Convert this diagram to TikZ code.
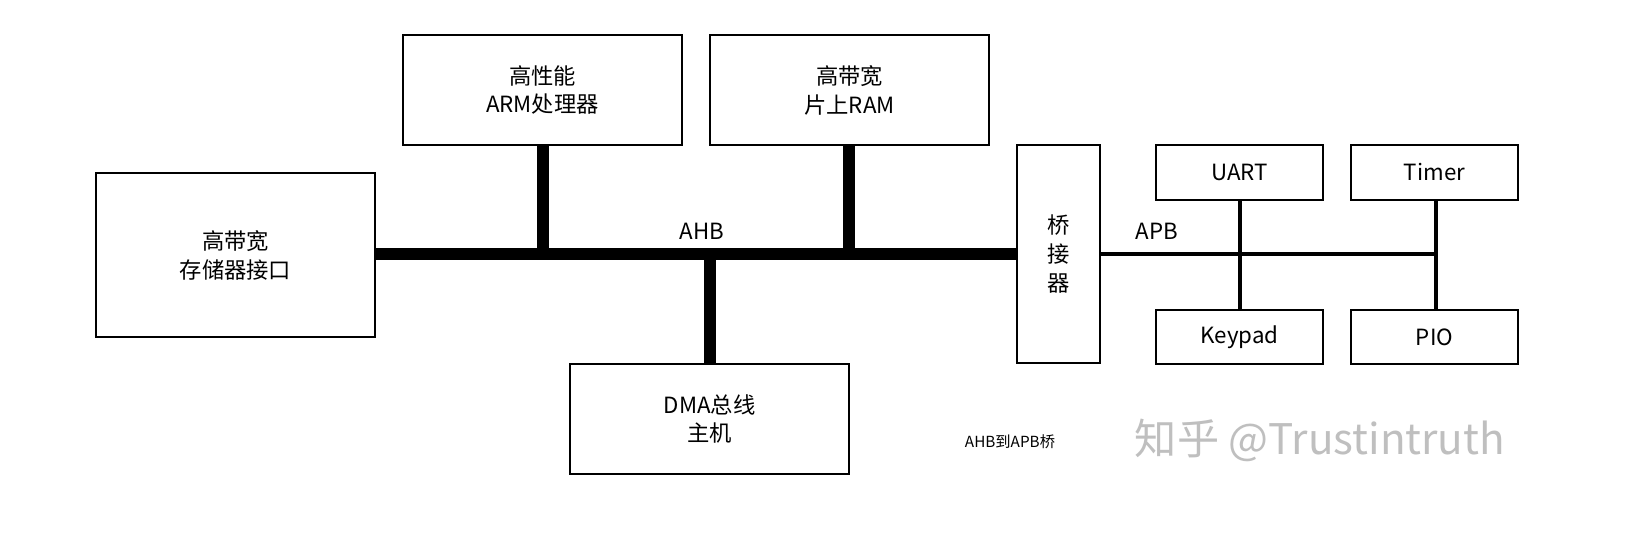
\documentclass[tikz,border=0pt]{standalone}
\usepackage{fontspec}
\setmainfont{Noto Sans CJK SC}
\begin{document}
\begin{tikzpicture}[x=0.02cm,y=-0.02cm,
  blk/.style={draw,line width=0.8pt,inner sep=0pt,align=center,font=\fontsize{12.7}{16.5}\selectfont},
  ahb/.style={line width=6.8pt},
  apb/.style={line width=2.3pt}]
\useasboundingbox (0,0) rectangle (1649,533);
\path[fill=white] (0,0) rectangle (1649,533);
\def\bx#1#2#3#4#5#6{\node[blk,minimum width=(#4-#2)*0.02cm,minimum height=(#5-#3)*0.02cm] (#1) at ({(#2+#4)/2},{(#3+#5)/2}) {#6};}
\bx{mem}{96}{173}{375}{337}{高带宽\\存储器接口}
\bx{arm}{403}{35}{682}{145}{高性能\\ARM处理器}
\bx{ram}{710}{35}{989}{145}{高带宽\\片上RAM}
\bx{dma}{570}{364}{849}{474}{DMA总线\\主机}
\bx{br}{1017}{145}{1100}{363}{桥\\接\\器}
\bx{uart}{1156}{145}{1323}{200}{UART}
\bx{timer}{1351}{145}{1518}{200}{Timer}
\bx{key}{1156}{310}{1323}{364}{Keypad}
\bx{pio}{1351}{310}{1518}{364}{PIO}
\coordinate (a1) at (543,254);
\coordinate (a2) at (849,254);
\coordinate (a3) at (710,254);
\coordinate (p1) at (1240,254);
\coordinate (p2) at (1436,254);
\draw[ahb] (mem.east |- a1) -- (br.west |- a1);
\draw[ahb] (arm.south -| a1) -- (a1);
\draw[ahb] (ram.south -| a2) -- (a2);
\draw[ahb] (dma.north -| a3) -- (a3);
\draw[apb] (br.east |- p1) -- (p2);
\draw[apb] (uart.south -| p1) -- (key.north -| p1);
\draw[apb] (timer.south -| p2) -- (pio.north -| p2);
\node[font=\fontsize{12.7}{16.5}\selectfont] (lahb) at (702,231) {AHB};
\node[font=\fontsize{12.7}{16.5}\selectfont] (lapb) at (1157,231) {APB};
\node[font=\fontsize{8.7}{11}\selectfont] (cap) at (1010,442) {AHB到APB桥};
\node[font=\fontsize{24}{28}\selectfont,text=black!25] (wm) at (1320,440) {知乎 @Trustintruth};
\end{tikzpicture}
\end{document}
